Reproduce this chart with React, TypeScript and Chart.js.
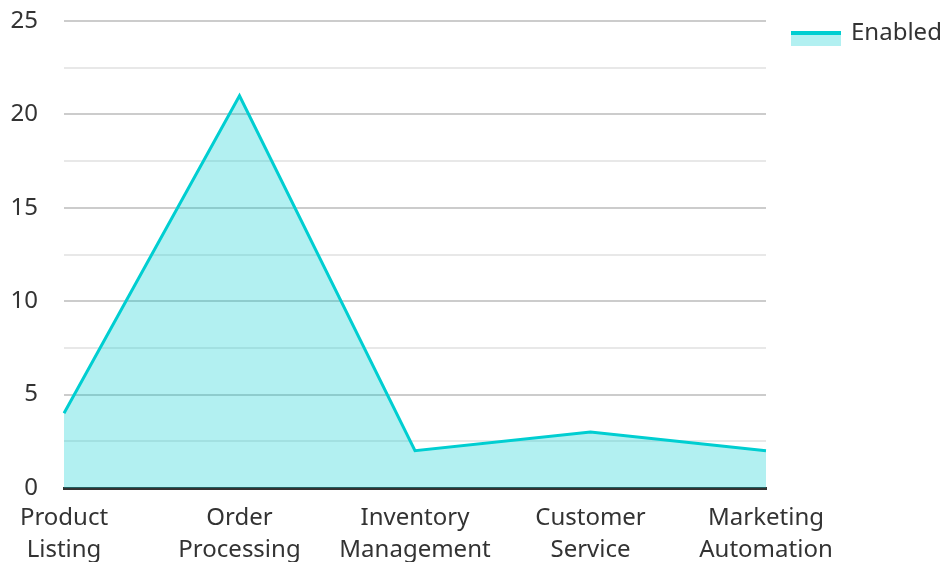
import React, { useEffect, useRef } from "react";
import { Chart, registerables } from "chart.js";

Chart.register(...registerables);

const categories: string[][] = [
  ["Product", "Listing"],
  ["Order", "Processing"],
  ["Inventory", "Management"],
  ["Customer", "Service"],
  ["Marketing", "Automation"],
];
const seriesLabel = "Enabled";
const enabledValues: number[] = [4, 21, 2, 3, 2];
const yTickLabels: number[] = [0, 5, 10, 15, 20, 25];

const LINE = "rgb(0,206,209)";
const FILL = "rgba(0,206,209,0.3)";
const FONT = "'Noto Sans', 'Open Sans', sans-serif";

const legendPlugin = {
  id: "customLegend",
  afterDraw(chart: any) {
    const { ctx, chartArea } = chart;
    const ds = chart.data.datasets[0];
    const x0 = chartArea.right + 25;
    const yLine = 33;
    ctx.save();
    ctx.fillStyle = ds.backgroundColor;
    ctx.fillRect(x0, yLine, 50, 13);
    ctx.strokeStyle = ds.borderColor;
    ctx.lineWidth = 4;
    ctx.beginPath();
    ctx.moveTo(x0, yLine);
    ctx.lineTo(x0 + 50, yLine);
    ctx.stroke();
    ctx.fillStyle = "#333";
    ctx.font = `24px ${FONT}`;
    ctx.textBaseline = "middle";
    ctx.textAlign = "left";
    ctx.fillText(ds.label, x0 + 60, yLine);
    ctx.restore();
  },
};

export default function App() {
  const ref = useRef<HTMLCanvasElement | null>(null);
  useEffect(() => {
    document.body.style.margin = "0";
    const chart = new Chart(ref.current as HTMLCanvasElement, {
      type: "line",
      data: {
        labels: categories,
        datasets: [
          {
            label: seriesLabel,
            data: enabledValues,
            borderColor: LINE,
            backgroundColor: FILL,
            borderWidth: 3,
            fill: "origin",
            tension: 0,
            pointRadius: 0,
          },
        ],
      },
      options: {
        responsive: false,
        animation: false,
        layout: { padding: { top: 21, right: 181, left: 0, bottom: 0 } },
        plugins: { legend: { display: false }, tooltip: { enabled: false } },
        scales: {
          x: {
            offset: false,
            grid: { display: false, drawTicks: false },
            border: { display: true, color: "#333", width: 3 },
            ticks: {
              padding: 14,
              maxRotation: 0,
              autoSkip: false,
              color: "#333",
              font: { family: FONT, size: 24, lineHeight: 1.35 },
            },
            afterFit(scale: any) {
              scale.height = 74;
              scale.paddingLeft = 0;
              scale.paddingRight = 0;
            },
          },
          y: {
            min: 0,
            max: 25,
            grid: {
              drawTicks: false,
              lineWidth: 2,
              color: (c: any) =>
                c.tick && yTickLabels.includes(c.tick.value) ? "#cccccc" : "#e8e8e8",
            },
            border: { display: false },
            ticks: {
              stepSize: 2.5,
              padding: 26,
              color: "#333",
              font: { family: FONT, size: 24 },
              callback: (v: any) => (yTickLabels.includes(Number(v)) ? String(v) : ""),
            },
            afterFit(scale: any) {
              scale.width = 64;
              scale.paddingTop = 0;
              scale.paddingBottom = 0;
            },
          },
        },
      },
      plugins: [legendPlugin],
    });
    return () => chart.destroy();
  }, []);
  return (
    <div style={{ width: 947, height: 562, overflow: "hidden" }}>
      <canvas ref={ref} width={947} height={562} style={{ display: "block" }} />
    </div>
  );
}
